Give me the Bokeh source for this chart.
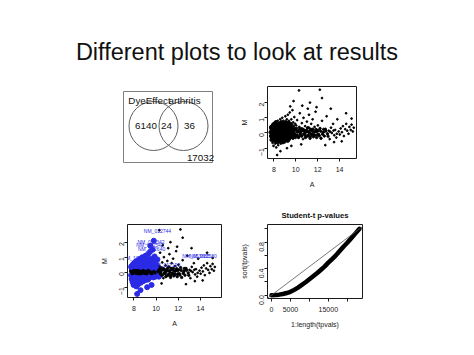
import math
from bokeh.plotting import figure
from bokeh.layouts import column, row
from bokeh.models import Range1d, FixedTicker, Slope
from bokeh.core.properties import value
from bokeh.embed import file_html
from bokeh.resources import INLINE

FONT = "Liberation Sans"
SLIDE_TITLE = "Different plots to look at results"

# ---------------- Venn diagram ----------------
venn_sets = ["DyeEffect", "arthritis"]
venn_counts = [6140, 24, 36, 17032]   # only DyeEffect, both, only arthritis, neither

# ---------------- MA plot data (A, M) ----------------
ma_core_A = [7.72, 7.75, 7.78, 7.80, 7.82, 7.85, 7.86, 7.88, 7.90, 7.92, 7.93, 7.95, 7.97, 7.98, 8.00,
             8.02, 8.04, 8.05, 8.07, 8.08, 8.10, 8.12, 8.13, 8.15, 8.17, 8.18, 8.20, 8.22, 8.23, 8.25,
             8.27, 8.28, 8.30, 8.32, 8.33, 8.35, 8.37, 8.38, 8.40, 8.42, 8.43, 8.45, 8.47, 8.48, 8.50,
             8.52, 8.53, 8.55, 8.57, 8.58, 8.60, 8.62, 8.63, 8.65, 8.67, 8.68, 8.70, 8.72, 8.73, 8.75,
             8.77, 8.78, 8.80, 8.82, 8.83, 8.85, 8.87, 8.88, 8.90, 8.92, 8.93, 8.95, 8.97, 8.98, 9.00,
             9.02, 9.04, 9.05, 9.07, 9.08, 9.10, 9.12, 9.13, 9.15, 9.17, 9.18, 9.20, 9.22, 9.24, 9.25,
             9.27, 9.28, 9.30, 9.32, 9.34, 9.35, 9.37, 9.38, 9.40, 9.42, 9.44, 9.45, 9.47, 9.48, 9.50]
ma_core_M = [0.05, -0.20, 0.30, -0.45, 0.15, -0.10, 0.45, -0.65, 0.00, 0.25, -0.30, 0.55, -0.85, 0.10, -0.15,
             0.35, -0.50, 0.05, 0.60, -0.25, 0.20, -0.70, -0.05, 0.40, -0.35, 0.70, 0.10, -0.95, -0.15, 0.30,
             -0.45, 0.50, 0.00, -0.60, 0.20, 0.80, -0.25, 0.10, -0.80, 0.45, -0.10, 0.25, -0.40, 0.60, 0.05,
             -0.30, 0.35, -0.55, 0.15, 0.90, -0.10, 0.50, -0.70, 0.20, -0.20, 0.70, 0.00, -0.45, 0.35, -0.05,
             1.00, -0.30, 0.25, -0.60, 0.55, 0.10, -0.15, 0.80, -0.40, 0.30, 0.00, -0.25, 0.60, -0.55, 0.15,
             0.45, -0.20, 1.10, 0.05, -0.45, 0.70, 0.20, -0.10, 0.40, -0.35, 0.90, 0.00, 0.55, -0.25, 0.25,
             -0.50, 1.20, 0.10, 0.65, -0.15, 0.35, -0.40, 0.80, 0.05, -0.20, 0.50, 1.35, 0.20, -0.30, 0.60]

ma_blob_A = [7.76, 7.83, 7.89, 7.94, 8.01, 8.06, 8.11, 8.16, 8.21, 8.26,
             8.31, 8.36, 8.41, 8.46, 8.51, 8.56, 8.61, 8.66, 8.71, 8.76,
             8.81, 8.86, 8.91, 8.96, 9.03, 9.09, 9.14, 9.21, 9.26, 9.33]
ma_blob_M = [0.38, -0.28, 0.18, -0.05, -0.32, 0.28, 0.42, -0.18, 0.35, -0.08,
             0.38, 0.02, 0.15, -0.22, 0.42, -0.38, 0.05, 0.38, -0.28, 0.48,
             -0.02, 0.32, 0.12, -0.08, -0.30, 0.32, 0.02, -0.08, 0.42, -0.25]

ma_tail_A = [9.52, 9.55, 9.57, 9.60, 9.62, 9.65, 9.67, 9.70, 9.72, 9.75,
             9.77, 9.80, 9.82, 9.85, 9.87, 9.90, 9.92, 9.95, 9.97, 10.00,
             10.04, 10.11, 10.13, 10.22, 10.26, 10.31, 10.37, 10.42, 10.44, 10.52,
             10.56, 10.61, 10.66, 10.71, 10.74, 10.83, 10.86, 10.91, 10.94, 11.02,
             11.06, 11.12, 11.16, 11.21, 11.27, 11.31, 11.36, 11.41, 11.46, 11.52,
             11.54, 11.61, 11.66, 11.72, 11.74, 11.81, 11.86, 11.91, 11.94, 12.02,
             12.10, 12.22, 12.31, 12.40, 12.52, 12.61, 12.70, 12.82, 12.90, 13.02,
             13.10, 13.22, 13.30, 13.41, 13.52, 13.60, 13.71, 13.80, 13.92, 14.02,
             14.10, 14.22, 14.31, 14.40, 14.52, 14.61, 14.70, 14.82, 14.90, 15.02, 15.10, 15.21, 15.30]
ma_tail_M = [0.00, 0.40, -0.25, 0.90, 0.15, -0.10, 0.55, 1.50, 0.25, -0.35,
             0.70, 0.05, 0.45, -0.20, 1.05, 0.30, -0.05, 0.60, -0.30, 0.20,
             0.50, -0.15, 0.85, 0.10, -0.30, 0.40, 1.30, 0.00, 0.30, -0.20,
             0.65, 0.15, -0.40, 1.00, 0.20, -0.10, 0.45, 0.05, -0.25, 0.75,
             0.10, -0.20, 0.35, 1.20, 0.00, -0.35, 0.25, 0.60, -0.10, 0.15,
             0.90, -0.25, 0.05, 0.40, -0.15, 1.40, 0.20, -0.30, 0.10, 0.50,
             -0.10, 0.30, -0.35, 0.80, 0.05, -0.20, 0.25, 1.10, -0.05, 0.15,
             -0.40, 0.35, 0.00, 0.60, -0.15, 0.20, -0.30, 0.90, 0.10, -0.10,
             0.30, 0.05, 0.45, -0.20, 0.25, 0.60, 0.15, -0.05, 0.40, 0.20, 0.55, 0.10, 0.35]

ma_band_A = [9.55, 9.63, 9.71, 9.78, 9.84, 9.93, 10.02, 10.08, 10.17, 10.23,
             10.33, 10.38, 10.48, 10.57, 10.62, 10.73, 10.81, 10.88, 10.97, 11.08,
             11.13, 11.22, 11.33, 11.42, 11.48, 11.57, 11.68, 11.77, 11.88, 11.97,
             12.05, 12.15, 12.28, 12.45, 12.55, 12.75, 12.95, 13.15, 13.45, 13.75]
ma_band_M = [-0.09, 0.16, -0.22, 0.26, -0.12, 0.19, -0.17, 0.30, 0.06, -0.26,
             0.22, -0.10, 0.13, -0.19, 0.27, -0.06, 0.11, -0.30, 0.18, 0.33,
             -0.14, 0.09, -0.24, 0.20, -0.07, 0.25, -0.16, 0.08, 0.22, -0.12,
             0.15, -0.19, 0.11, -0.08, 0.24, 0.13, -0.21, 0.08, 0.16, -0.05]

ma_out_A = [10.30, 12.20, 12.40, 11.30, 9.80, 10.60, 11.90, 13.20, 14.60, 15.10,
            8.30, 8.60, 9.20, 9.60, 10.50, 12.70, 13.50, 14.20, 11.10, 9.50]
ma_out_M = [2.80, 2.85, 2.30, 2.00, 2.10, 1.80, 1.70, 1.60, 1.30, 0.95,
            -1.45, -1.20, -1.00, -0.85, -0.75, -0.80, -0.60, -0.55, 1.60, 1.75]

ma_A = ma_core_A + ma_blob_A + ma_tail_A + ma_band_A + ma_out_A
ma_M = ma_core_M + ma_blob_M + ma_tail_M + ma_band_M + ma_out_M

# highlighted genes (labelled in blue)
hl_labels = ["NM_012744", "NM_019342", "NM_031542", "NM_022640", "NM_053885",
             "NM_012580", "NM_017193", "NM_138881", "NM_021740"]
hl_A = [10.13, 9.55, 9.45, 9.60, 13.60, 14.25, 10.95, 8.20, 9.10]
hl_M = [2.73, 2.00, 1.78, 1.52, 1.08, 1.05, 0.45, 0.93, 0.62]

ma_x_ticks = [8, 10, 12, 14]
ma_y_ticks = [-1, 0, 1, 2]

# ---------------- sorted p-values ----------------
n_genes = 23232
pv_index = [1, 1000, 2000, 3000, 4000, 5000, 6000, 7000, 8000, 9000, 10000, 11000,
            12000, 13000, 14000, 15000, 16000, 17000, 18000, 19000, 20000, 21000, 22000, 23232]
pv_sorted = [0.0, 0.002, 0.008, 0.018, 0.032, 0.05, 0.08, 0.115, 0.155, 0.195, 0.24, 0.285,
             0.33, 0.38, 0.43, 0.49, 0.545, 0.60, 0.665, 0.73, 0.79, 0.855, 0.92, 1.0]
pv_x_ticks = [0, 5000, 10000, 15000, 20000]
pv_x_labels = ["0", "5000", "", "15000", ""]
pv_y_ticks = [0.0, 0.2, 0.4, 0.6, 0.8, 1.0]
pv_y_labels = ["0.0", "", "0.4", "", "0.8", ""]

INK = "#1a1a1a"
BLUE = "#2b2be6"


def dot_size(a, m):
    # dense core drawn with larger dots so that it reads as the solid mass of the original
    if a < 9.6 and -0.65 < m < 0.72:
        return 3.6
    if abs(m) < 0.4 and a < 13.0:
        return 2.4
    return 1.8


def r_style(p, xticks, yticks):
    p.outline_line_color = INK
    p.outline_line_width = 1
    p.outline_line_alpha = 1
    p.grid.visible = False
    p.xaxis.ticker = FixedTicker(ticks=xticks)
    p.yaxis.ticker = FixedTicker(ticks=yticks)
    for ax in (p.xaxis[0], p.yaxis[0]):
        ax.axis_line_color = None
        ax.major_tick_line_color = INK
        ax.major_tick_in = 0
        ax.major_tick_out = 3
        ax.minor_tick_line_color = None
        ax.major_label_text_font = FONT
        ax.major_label_text_font_size = "7px"
        ax.major_label_text_color = INK
        ax.axis_label_text_font = FONT
        ax.axis_label_text_font_size = "7px"
        ax.axis_label_text_font_style = "normal"
        ax.axis_label_text_color = INK
    p.xaxis.major_label_standoff = 5
    p.xaxis.axis_label_standoff = 6
    p.yaxis.major_label_standoff = 3
    p.yaxis.axis_label_standoff = 6
    p.yaxis.major_label_orientation = math.pi / 2


def base_fig(w, h, left, right, top, bottom, xr, yr):
    p = figure(width=w, height=h, x_range=Range1d(*xr), y_range=Range1d(*yr),
               output_backend="svg", toolbar_location=None,
               min_border_left=left, min_border_right=right,
               min_border_top=top, min_border_bottom=bottom)
    p.background_fill_color = "white"
    p.border_fill_color = "white"
    p.frame_align = False
    return p


# ---------- slide title ----------
pt = base_fig(474, 80, 0, 0, 0, 0, (0, 474), (80, 0))
pt.axis.visible = False
pt.grid.visible = False
pt.outline_line_color = None
pt.text(x=[236.5], y=[51.7], text=[SLIDE_TITLE], text_font=value(FONT),
        text_font_size="23.5px", text_align="center", text_baseline="alphabetic", text_color="#111")

# ---------- Venn (frame spans the whole cell; coordinates are page pixels) ----------
pv = base_fig(237, 120, 0, 0, 0, 0, (0, 237), (200, 80))
pv.axis.visible = False
pv.grid.visible = False
pv.outline_line_color = None
pv.quad(left=[123], right=[212], top=[91], bottom=[162], fill_color=None,
        line_color="#808080", line_width=1)
pv.scatter(x=[153, 183], y=[125.5, 125.5], size=49, marker="circle", fill_color=None,
           line_color="#606060", line_width=1)
pv.text(x=[149, 184], y=[100, 100], text=venn_sets, text_font=value(FONT), text_font_size="9.8px",
        text_align="center", text_baseline="middle", text_color="#111")
pv.text(x=[145.5, 166, 189, 200], y=[125, 125, 125, 157], text=[str(c) for c in venn_counts],
        text_font=value(FONT), text_font_size="9.8px", text_align="center",
        text_baseline="middle", text_color="#111")

# ---------- MA plot ----------
pm = base_fig(237, 120, 30, 118, 6, 42, (7.42, 15.55), (-1.68, 3.06))
r_style(pm, ma_x_ticks, ma_y_ticks)
pm.xaxis.axis_label = "A"
pm.yaxis.axis_label = "M"
pm.scatter(ma_A, ma_M, size=[dot_size(a, m) for a, m in zip(ma_A, ma_M)],
           color="black", marker="circle")

# ---------- MA plot with highlighted genes ----------
ph = base_fig(237, 155, 127, 16, 24, 58, (7.43, 15.9), (-1.69, 3.18))
r_style(ph, ma_x_ticks, ma_y_ticks)
ph.xaxis.axis_label = "A"
ph.yaxis.axis_label = "M"
is_blue = [a < 10.3 and abs(m) >= 0.12 for a, m in zip(ma_A, ma_M)]
blue_A = [a for a, b in zip(ma_A, is_blue) if b]
blue_M = [m for m, b in zip(ma_M, is_blue) if b]
blk_A = [a for a, b in zip(ma_A, is_blue) if not b]
blk_M = [m for m, b in zip(ma_M, is_blue) if not b]
ph.scatter(blue_A, blue_M, size=5.0, color=BLUE, marker="circle")
ph.scatter(blk_A, blk_M, size=[min(dot_size(a, m), 2.6) for a, m in zip(blk_A, blk_M)],
           color="black", marker="circle")
ph.text(x=hl_A, y=hl_M, text=hl_labels, text_font=value(FONT), text_font_size="5px",
        text_align="center", text_baseline="middle", text_color=BLUE)

# ---------- sorted p-values ----------
pp = base_fig(237, 155, 30, 112, 24, 57, (-1053, 24026), (-0.05, 1.065))
r_style(pp, pv_x_ticks, pv_y_ticks)
pp.xaxis.major_label_overrides = {t: l for t, l in zip(pv_x_ticks, pv_x_labels)}
pp.yaxis.major_label_overrides = {t: l for t, l in zip(pv_y_ticks, pv_y_labels)}
pp.xaxis.axis_label = "1:length(tpvals)"
pp.yaxis.axis_label = "sort(tpvals)"
pp.title.text = "Student-t p-values"
pp.title.align = "center"
pp.title.text_font = FONT
pp.title.text_font_size = "7.7px"
pp.title.text_font_style = "bold"
pp.title.text_color = "#111"
pp.add_layout(Slope(gradient=1.0 / n_genes, y_intercept=0, line_color="#555555", line_width=0.8))
pp.line(pv_index, pv_sorted, line_width=4.5, color="black", line_cap="round", line_join="round")

layout = column(pt, row(pv, pm), row(ph, pp))
open("out.html", "w").write(file_html(layout, INLINE))
